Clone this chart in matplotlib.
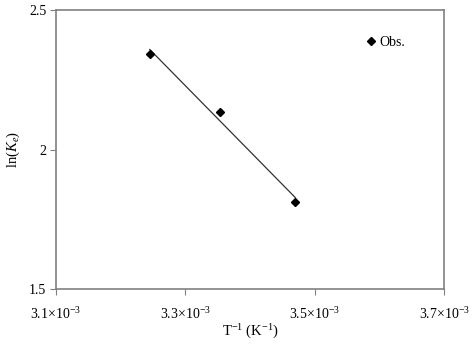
import matplotlib
matplotlib.use("Agg")
import matplotlib.pyplot as plt
import numpy as np

plt.rcParams['font.family'] = ['Liberation Serif', 'DejaVu Serif']
plt.rcParams['mathtext.fontset'] = 'custom'
plt.rcParams['mathtext.rm'] = 'Liberation Serif'
plt.rcParams['mathtext.it'] = 'Liberation Serif:italic'

inv_T = [3.245e-3, 3.354e-3, 3.470e-3]
ln_Ke = [2.342, 2.134, 1.812]
x_ticks = [3.1e-3, 3.3e-3, 3.5e-3, 3.7e-3]
x_tick_labels = [r'3.1$\times$10$^{-3}$', r'3.3$\times$10$^{-3}$',
                 r'3.5$\times$10$^{-3}$', r'3.7$\times$10$^{-3}$']
y_ticks = [1.5, 2.0, 2.5]
y_tick_labels = ['1.5', '2', '2.5']

fig = plt.figure(figsize=(4.74, 3.47), dpi=100)
ax = fig.add_axes([0.118, 0.167, 0.819, 0.804])

coef = np.polyfit(inv_T, ln_Ke, 1)
xs = np.array([min(inv_T), max(inv_T)])
ax.plot(xs, np.polyval(coef, xs), color='#333333', lw=0.9)
ax.plot(inv_T, ln_Ke, 'D', color='black', markersize=4.5, label='Obs.')

ax.set_xlim(3.1e-3, 3.7e-3)
ax.set_ylim(1.5, 2.5)
ax.set_xticks(x_ticks)
ax.set_xticklabels(x_tick_labels)
ax.set_yticks(y_ticks)
ax.set_yticklabels(y_tick_labels)
for s in ax.spines.values():
    s.set_color('#808080')
    s.set_linewidth(1.2)
ax.tick_params(direction='out', length=4, color='#808080', labelsize=10, pad=8)
ax.tick_params(axis='y', pad=3)

ax.set_xlabel(r'T$^{-1}$ (K$^{-1}$)', fontsize=10.5, labelpad=1)
ax.set_ylabel(r'ln($K_e$)', fontsize=10.5, labelpad=5)

ax.legend(loc='center right', bbox_to_anchor=(0.9, 0.885), frameon=False,
          fontsize=10, handlelength=0.6, handletextpad=0.3, borderpad=0.0,
          borderaxespad=0.0)

fig.savefig('out.png', dpi=100)
